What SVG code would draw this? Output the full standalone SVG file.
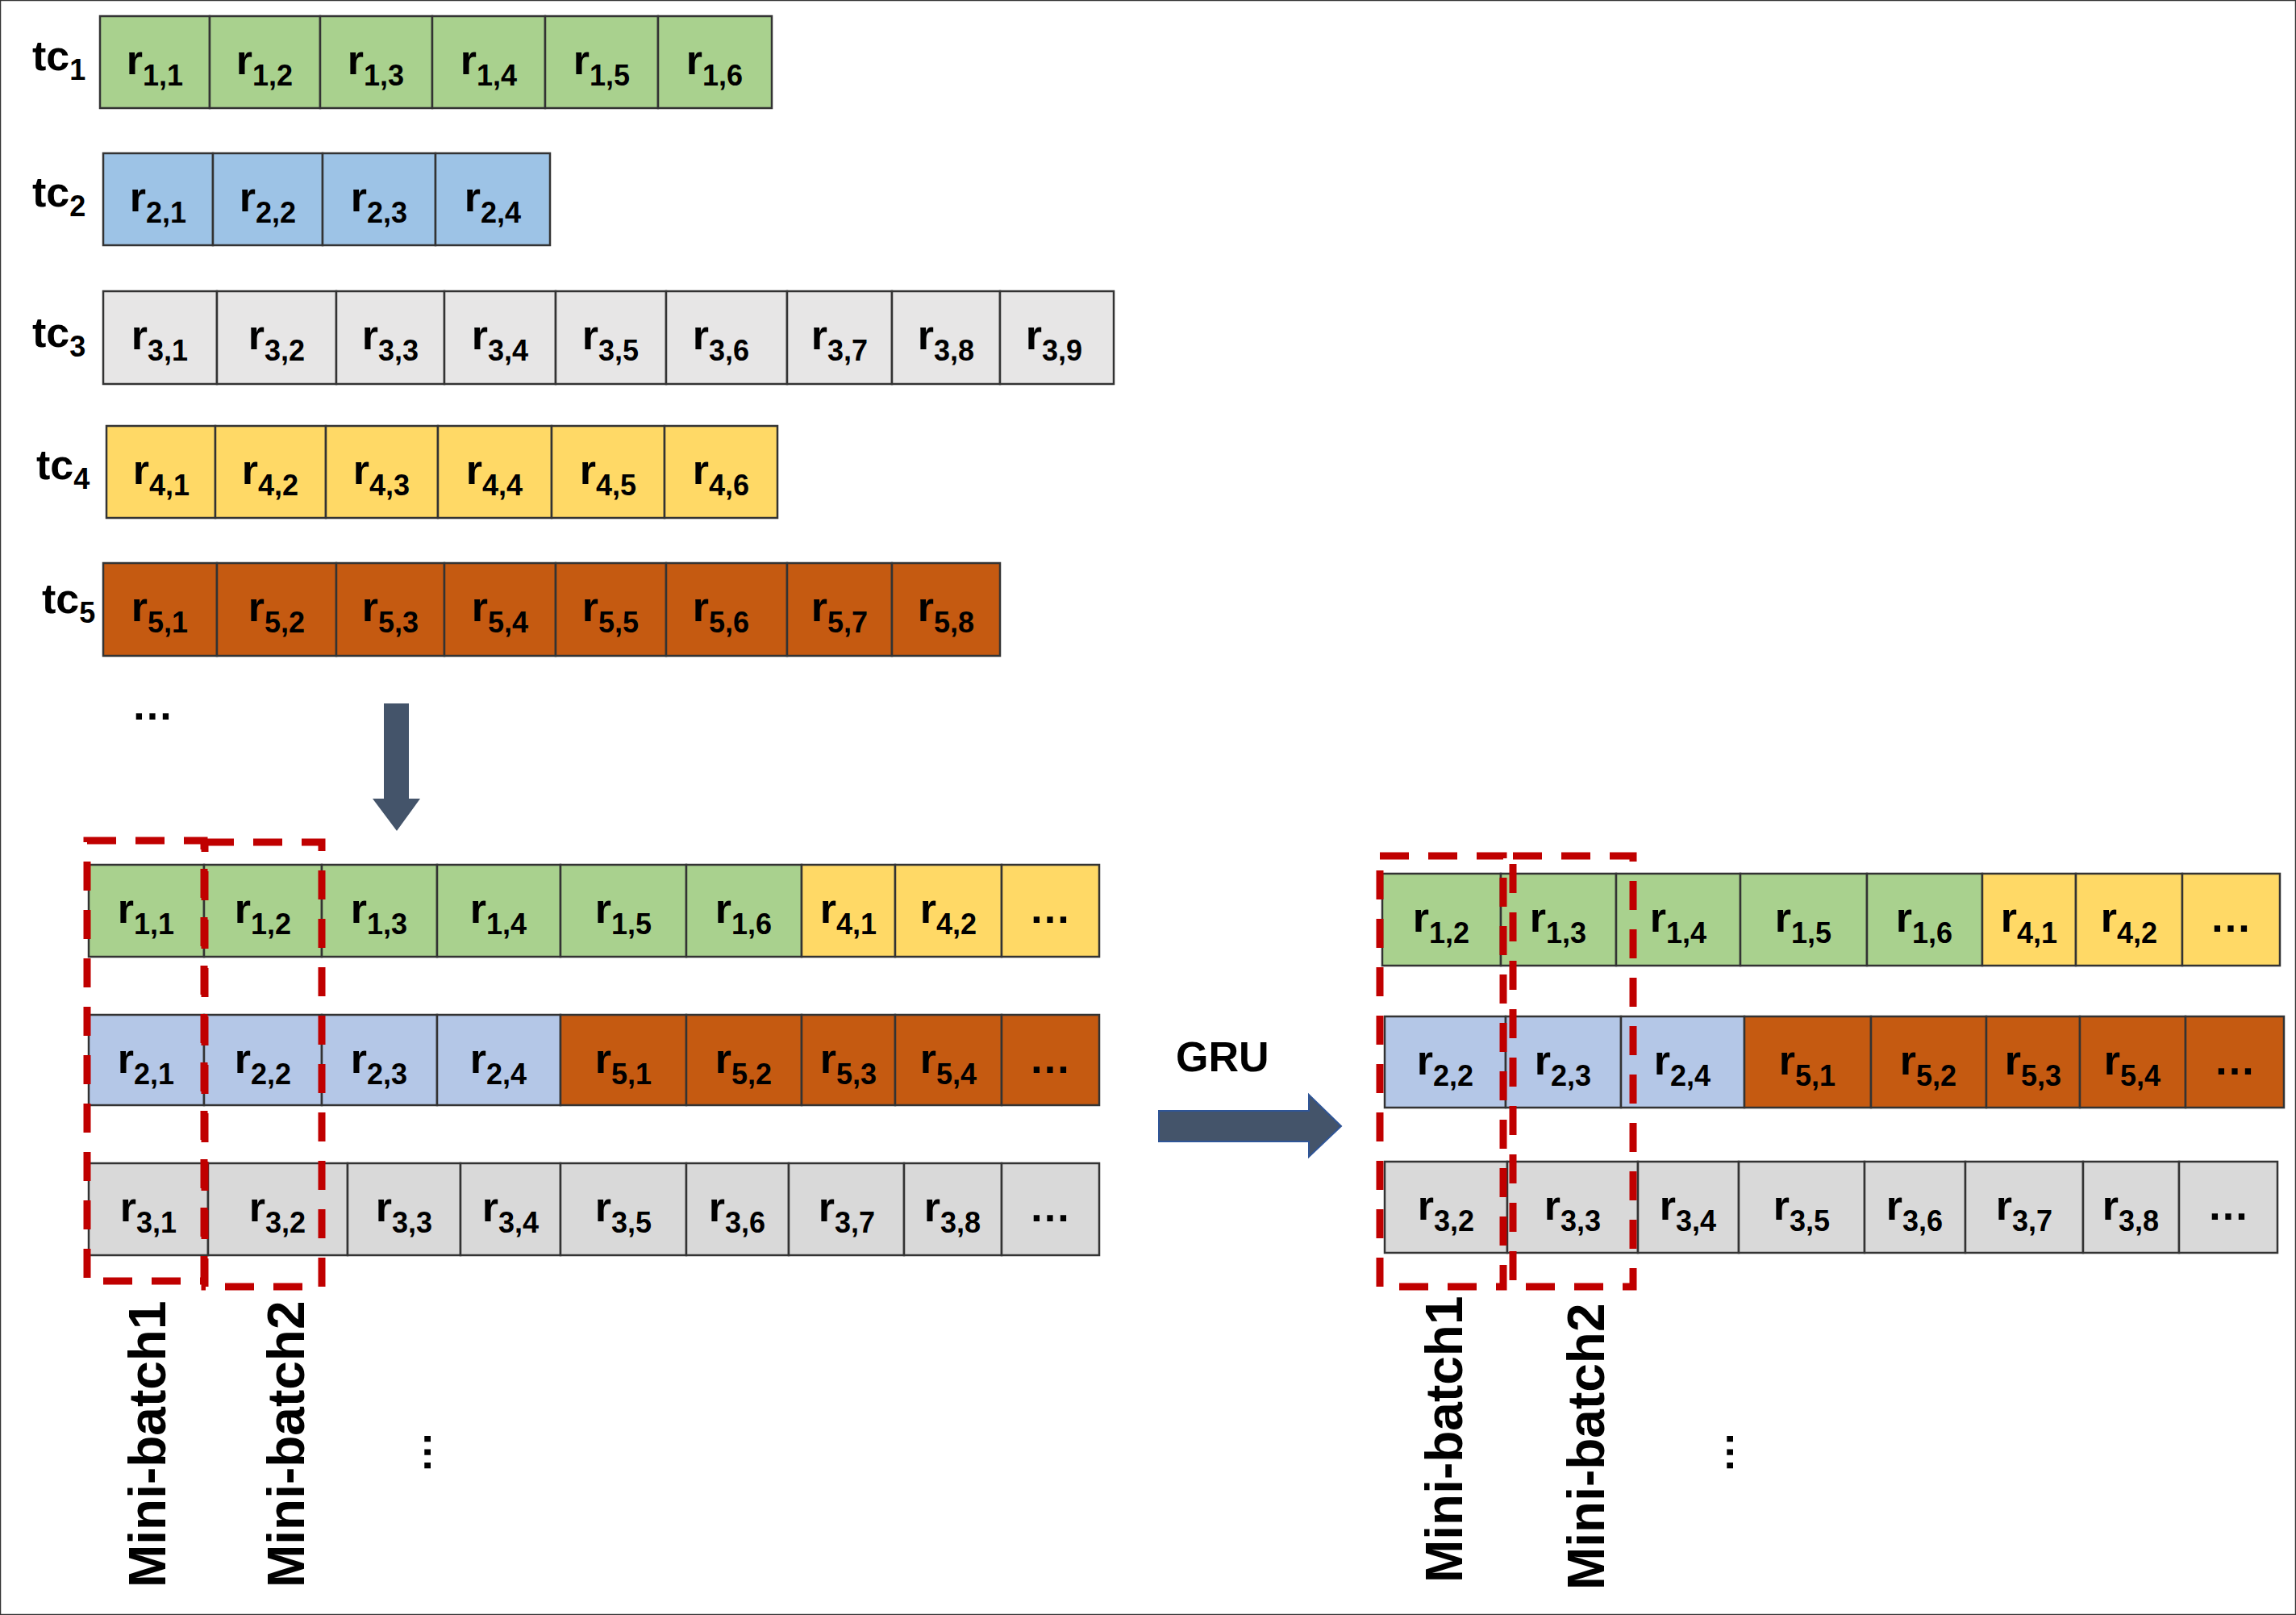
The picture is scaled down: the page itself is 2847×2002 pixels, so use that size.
<svg xmlns="http://www.w3.org/2000/svg" width="2847" height="2002" viewBox="0 0 2847 2002">
<style>
.c{font-family:"Liberation Sans",Arial,sans-serif;font-weight:bold;font-size:52px;fill:#000;text-anchor:middle}
.s{font-size:36px}
.l{font-family:"Liberation Sans",Arial,sans-serif;font-weight:bold;font-size:52px;fill:#000}
.mb{font-family:"Liberation Sans",Arial,sans-serif;font-weight:bold;font-size:64px;fill:#000}
rect{stroke:#333;stroke-width:2.5}
.g{fill:#A9D18E}.b{fill:#9DC3E6}.b2{fill:#B4C7E7}.y{fill:#FFD966}.o{fill:#C55A11}.w{fill:#E7E6E6}.w2{fill:#D9D9D9}
.d{fill:none;stroke:#C00000;stroke-width:9;stroke-dasharray:36 24}
</style>
<rect width="2847" height="2002" fill="#fff" stroke="none"/>
<g id="labels">
<text class="l" x="40" y="87">tc<tspan class="s" dy="12">1</tspan></text>
<text class="l" x="40" y="256">tc<tspan class="s" dy="12">2</tspan></text>
<text class="l" x="40" y="430">tc<tspan class="s" dy="12">3</tspan></text>
<text class="l" x="45" y="594">tc<tspan class="s" dy="12">4</tspan></text>
<text class="l" x="52" y="760">tc<tspan class="s" dy="12">5</tspan></text>
<text class="l" x="163" y="892" font-size="70">…</text>
</g>
<g id="tc1">
<rect class="g" x="124" y="20" width="136" height="114"/><text class="c" x="192" y="92">r<tspan class="s" dy="14">1,1</tspan></text>
<rect class="g" x="260" y="20" width="137" height="114"/><text class="c" x="328" y="92">r<tspan class="s" dy="14">1,2</tspan></text>
<rect class="g" x="397" y="20" width="139" height="114"/><text class="c" x="466" y="92">r<tspan class="s" dy="14">1,3</tspan></text>
<rect class="g" x="536" y="20" width="140" height="114"/><text class="c" x="606" y="92">r<tspan class="s" dy="14">1,4</tspan></text>
<rect class="g" x="676" y="20" width="140" height="114"/><text class="c" x="746" y="92">r<tspan class="s" dy="14">1,5</tspan></text>
<rect class="g" x="816" y="20" width="141" height="114"/><text class="c" x="886" y="92">r<tspan class="s" dy="14">1,6</tspan></text>
</g>
<g id="tc2">
<rect class="b" x="128" y="190" width="136" height="114"/><text class="c" x="196" y="262">r<tspan class="s" dy="14">2,1</tspan></text>
<rect class="b" x="264" y="190" width="136" height="114"/><text class="c" x="332" y="262">r<tspan class="s" dy="14">2,2</tspan></text>
<rect class="b" x="400" y="190" width="140" height="114"/><text class="c" x="470" y="262">r<tspan class="s" dy="14">2,3</tspan></text>
<rect class="b" x="540" y="190" width="142" height="114"/><text class="c" x="611" y="262">r<tspan class="s" dy="14">2,4</tspan></text>
</g>
<g id="tc3">
<rect class="w" x="128" y="361" width="141" height="115"/><text class="c" x="198" y="433">r<tspan class="s" dy="14">3,1</tspan></text>
<rect class="w" x="269" y="361" width="148" height="115"/><text class="c" x="343" y="433">r<tspan class="s" dy="14">3,2</tspan></text>
<rect class="w" x="417" y="361" width="134" height="115"/><text class="c" x="484" y="433">r<tspan class="s" dy="14">3,3</tspan></text>
<rect class="w" x="551" y="361" width="138" height="115"/><text class="c" x="620" y="433">r<tspan class="s" dy="14">3,4</tspan></text>
<rect class="w" x="689" y="361" width="137" height="115"/><text class="c" x="757" y="433">r<tspan class="s" dy="14">3,5</tspan></text>
<rect class="w" x="826" y="361" width="150" height="115"/><text class="c" x="894" y="433">r<tspan class="s" dy="14">3,6</tspan></text>
<rect class="w" x="976" y="361" width="130" height="115"/><text class="c" x="1041" y="433">r<tspan class="s" dy="14">3,7</tspan></text>
<rect class="w" x="1106" y="361" width="134" height="115"/><text class="c" x="1173" y="433">r<tspan class="s" dy="14">3,8</tspan></text>
<rect class="w" x="1240" y="361" width="141" height="115"/><text class="c" x="1307" y="433">r<tspan class="s" dy="14">3,9</tspan></text>
</g>
<g id="tc4">
<rect class="y" x="132" y="528" width="135" height="114"/><text class="c" x="200" y="600">r<tspan class="s" dy="14">4,1</tspan></text>
<rect class="y" x="267" y="528" width="137" height="114"/><text class="c" x="335" y="600">r<tspan class="s" dy="14">4,2</tspan></text>
<rect class="y" x="404" y="528" width="139" height="114"/><text class="c" x="473" y="600">r<tspan class="s" dy="14">4,3</tspan></text>
<rect class="y" x="543" y="528" width="141" height="114"/><text class="c" x="613" y="600">r<tspan class="s" dy="14">4,4</tspan></text>
<rect class="y" x="684" y="528" width="140" height="114"/><text class="c" x="754" y="600">r<tspan class="s" dy="14">4,5</tspan></text>
<rect class="y" x="824" y="528" width="140" height="114"/><text class="c" x="894" y="600">r<tspan class="s" dy="14">4,6</tspan></text>
</g>
<g id="tc5">
<rect class="o" x="128" y="698" width="141" height="115"/><text class="c" x="198" y="770">r<tspan class="s" dy="14">5,1</tspan></text>
<rect class="o" x="269" y="698" width="148" height="115"/><text class="c" x="343" y="770">r<tspan class="s" dy="14">5,2</tspan></text>
<rect class="o" x="417" y="698" width="134" height="115"/><text class="c" x="484" y="770">r<tspan class="s" dy="14">5,3</tspan></text>
<rect class="o" x="551" y="698" width="138" height="115"/><text class="c" x="620" y="770">r<tspan class="s" dy="14">5,4</tspan></text>
<rect class="o" x="689" y="698" width="137" height="115"/><text class="c" x="757" y="770">r<tspan class="s" dy="14">5,5</tspan></text>
<rect class="o" x="826" y="698" width="150" height="115"/><text class="c" x="894" y="770">r<tspan class="s" dy="14">5,6</tspan></text>
<rect class="o" x="976" y="698" width="130" height="115"/><text class="c" x="1041" y="770">r<tspan class="s" dy="14">5,7</tspan></text>
<rect class="o" x="1106" y="698" width="134" height="115"/><text class="c" x="1173" y="770">r<tspan class="s" dy="14">5,8</tspan></text>
</g>
<g id="connectors">
<polygon points="476,872 507,872 507,990 521,990 492,1030 462,990 476,990" fill="#44546A"/>
<polygon points="1437,1377 1623,1377 1623,1357 1663,1396 1623,1434 1623,1415 1437,1415" fill="#44546A" stroke="#2F5597" stroke-width="2"/>
<text class="l" x="1458" y="1328" font-size="60">GRU</text>
</g>
<g id="left-row1">
<rect class="g" x="110" y="1072" width="143" height="114"/><text class="c" x="181" y="1144">r<tspan class="s" dy="14">1,1</tspan></text>
<rect class="g" x="253" y="1072" width="146" height="114"/><text class="c" x="326" y="1144">r<tspan class="s" dy="14">1,2</tspan></text>
<rect class="g" x="399" y="1072" width="143" height="114"/><text class="c" x="470" y="1144">r<tspan class="s" dy="14">1,3</tspan></text>
<rect class="g" x="542" y="1072" width="153" height="114"/><text class="c" x="618" y="1144">r<tspan class="s" dy="14">1,4</tspan></text>
<rect class="g" x="695" y="1072" width="156" height="114"/><text class="c" x="773" y="1144">r<tspan class="s" dy="14">1,5</tspan></text>
<rect class="g" x="851" y="1072" width="143" height="114"/><text class="c" x="922" y="1144">r<tspan class="s" dy="14">1,6</tspan></text>
<rect class="y" x="994" y="1072" width="116" height="114"/><text class="c" x="1052" y="1144">r<tspan class="s" dy="14">4,1</tspan></text>
<rect class="y" x="1110" y="1072" width="132" height="114"/><text class="c" x="1176" y="1144">r<tspan class="s" dy="14">4,2</tspan></text>
<rect class="y" x="1242" y="1072" width="121" height="114"/><text class="c" x="1302" y="1144">…</text>
</g>
<g id="left-row2">
<rect class="b2" x="110" y="1258" width="143" height="112"/><text class="c" x="181" y="1330">r<tspan class="s" dy="14">2,1</tspan></text>
<rect class="b2" x="253" y="1258" width="146" height="112"/><text class="c" x="326" y="1330">r<tspan class="s" dy="14">2,2</tspan></text>
<rect class="b2" x="399" y="1258" width="143" height="112"/><text class="c" x="470" y="1330">r<tspan class="s" dy="14">2,3</tspan></text>
<rect class="b2" x="542" y="1258" width="153" height="112"/><text class="c" x="618" y="1330">r<tspan class="s" dy="14">2,4</tspan></text>
<rect class="o" x="695" y="1258" width="156" height="112"/><text class="c" x="773" y="1330">r<tspan class="s" dy="14">5,1</tspan></text>
<rect class="o" x="851" y="1258" width="143" height="112"/><text class="c" x="922" y="1330">r<tspan class="s" dy="14">5,2</tspan></text>
<rect class="o" x="994" y="1258" width="116" height="112"/><text class="c" x="1052" y="1330">r<tspan class="s" dy="14">5,3</tspan></text>
<rect class="o" x="1110" y="1258" width="132" height="112"/><text class="c" x="1176" y="1330">r<tspan class="s" dy="14">5,4</tspan></text>
<rect class="o" x="1242" y="1258" width="121" height="112"/><text class="c" x="1302" y="1330">…</text>
</g>
<g id="left-row3">
<rect class="w2" x="110" y="1442" width="148" height="114"/><text class="c" x="184" y="1514">r<tspan class="s" dy="14">3,1</tspan></text>
<rect class="w2" x="258" y="1442" width="173" height="114"/><text class="c" x="344" y="1514">r<tspan class="s" dy="14">3,2</tspan></text>
<rect class="w2" x="431" y="1442" width="140" height="114"/><text class="c" x="501" y="1514">r<tspan class="s" dy="14">3,3</tspan></text>
<rect class="w2" x="571" y="1442" width="124" height="114"/><text class="c" x="633" y="1514">r<tspan class="s" dy="14">3,4</tspan></text>
<rect class="w2" x="695" y="1442" width="156" height="114"/><text class="c" x="773" y="1514">r<tspan class="s" dy="14">3,5</tspan></text>
<rect class="w2" x="851" y="1442" width="127" height="114"/><text class="c" x="914" y="1514">r<tspan class="s" dy="14">3,6</tspan></text>
<rect class="w2" x="978" y="1442" width="143" height="114"/><text class="c" x="1050" y="1514">r<tspan class="s" dy="14">3,7</tspan></text>
<rect class="w2" x="1121" y="1442" width="121" height="114"/><text class="c" x="1181" y="1514">r<tspan class="s" dy="14">3,8</tspan></text>
<rect class="w2" x="1242" y="1442" width="121" height="114"/><text class="c" x="1302" y="1514">…</text>
</g>
<g id="left-minibatches">
<rect class="d" x="108" y="1042" width="145" height="546"/>
<rect class="d" x="254" y="1044" width="145" height="551"/>
<text class="mb" transform="translate(205,1968) rotate(-90)">Mini-batch1</text>
<text class="mb" transform="translate(377,1968) rotate(-90)">Mini-batch2</text>
<text class="l" font-size="64" transform="translate(534,1826) rotate(-90)">…</text>
</g>
<g id="right-row1">
<rect class="g" x="1714" y="1083" width="147" height="114"/><text class="c" x="1787" y="1155">r<tspan class="s" dy="14">1,2</tspan></text>
<rect class="g" x="1861" y="1083" width="143" height="114"/><text class="c" x="1932" y="1155">r<tspan class="s" dy="14">1,3</tspan></text>
<rect class="g" x="2004" y="1083" width="154" height="114"/><text class="c" x="2081" y="1155">r<tspan class="s" dy="14">1,4</tspan></text>
<rect class="g" x="2158" y="1083" width="157" height="114"/><text class="c" x="2236" y="1155">r<tspan class="s" dy="14">1,5</tspan></text>
<rect class="g" x="2315" y="1083" width="143" height="114"/><text class="c" x="2386" y="1155">r<tspan class="s" dy="14">1,6</tspan></text>
<rect class="y" x="2458" y="1083" width="116" height="114"/><text class="c" x="2516" y="1155">r<tspan class="s" dy="14">4,1</tspan></text>
<rect class="y" x="2574" y="1083" width="132" height="114"/><text class="c" x="2640" y="1155">r<tspan class="s" dy="14">4,2</tspan></text>
<rect class="y" x="2706" y="1083" width="121" height="114"/><text class="c" x="2766" y="1155">…</text>
</g>
<g id="right-row2">
<rect class="b2" x="1717" y="1260" width="150" height="113"/><text class="c" x="1792" y="1332">r<tspan class="s" dy="14">2,2</tspan></text>
<rect class="b2" x="1867" y="1260" width="143" height="113"/><text class="c" x="1938" y="1332">r<tspan class="s" dy="14">2,3</tspan></text>
<rect class="b2" x="2010" y="1260" width="153" height="113"/><text class="c" x="2086" y="1332">r<tspan class="s" dy="14">2,4</tspan></text>
<rect class="o" x="2163" y="1260" width="157" height="113"/><text class="c" x="2241" y="1332">r<tspan class="s" dy="14">5,1</tspan></text>
<rect class="o" x="2320" y="1260" width="143" height="113"/><text class="c" x="2391" y="1332">r<tspan class="s" dy="14">5,2</tspan></text>
<rect class="o" x="2463" y="1260" width="116" height="113"/><text class="c" x="2521" y="1332">r<tspan class="s" dy="14">5,3</tspan></text>
<rect class="o" x="2579" y="1260" width="131" height="113"/><text class="c" x="2644" y="1332">r<tspan class="s" dy="14">5,4</tspan></text>
<rect class="o" x="2710" y="1260" width="122" height="113"/><text class="c" x="2771" y="1332">…</text>
</g>
<g id="right-row3">
<rect class="w2" x="1717" y="1440" width="152" height="113"/><text class="c" x="1793" y="1512">r<tspan class="s" dy="14">3,2</tspan></text>
<rect class="w2" x="1869" y="1440" width="162" height="113"/><text class="c" x="1950" y="1512">r<tspan class="s" dy="14">3,3</tspan></text>
<rect class="w2" x="2031" y="1440" width="125" height="113"/><text class="c" x="2093" y="1512">r<tspan class="s" dy="14">3,4</tspan></text>
<rect class="w2" x="2156" y="1440" width="156" height="113"/><text class="c" x="2234" y="1512">r<tspan class="s" dy="14">3,5</tspan></text>
<rect class="w2" x="2312" y="1440" width="125" height="113"/><text class="c" x="2374" y="1512">r<tspan class="s" dy="14">3,6</tspan></text>
<rect class="w2" x="2437" y="1440" width="146" height="113"/><text class="c" x="2510" y="1512">r<tspan class="s" dy="14">3,7</tspan></text>
<rect class="w2" x="2583" y="1440" width="119" height="113"/><text class="c" x="2642" y="1512">r<tspan class="s" dy="14">3,8</tspan></text>
<rect class="w2" x="2702" y="1440" width="122" height="113"/><text class="c" x="2763" y="1512">…</text>
</g>
<g id="right-minibatches">
<rect class="d" x="1711" y="1061" width="153" height="534"/>
<rect class="d" x="1876" y="1061" width="149" height="534"/>
<text class="mb" transform="translate(1813,1962) rotate(-90)">Mini-batch1</text>
<text class="mb" transform="translate(1989,1971) rotate(-90)">Mini-batch2</text>
<text class="l" font-size="64" transform="translate(2149,1826) rotate(-90)">…</text>
</g>
</svg>
